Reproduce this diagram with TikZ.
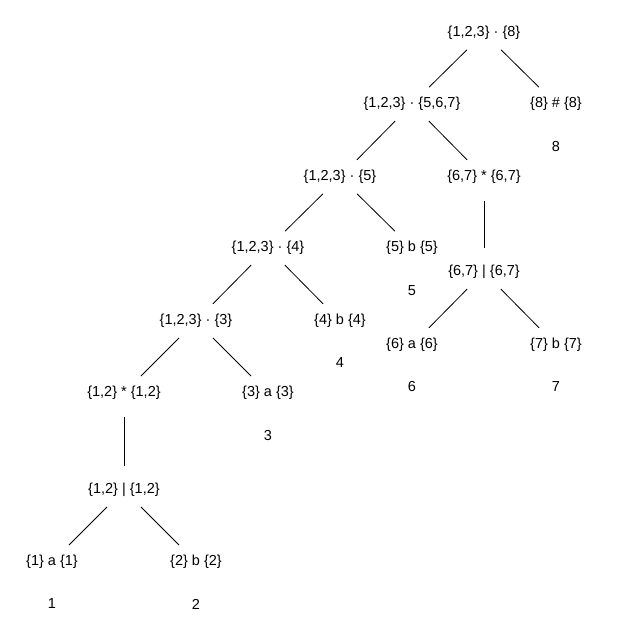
\documentclass[tikz,border=0pt]{standalone}
\usepackage{fontspec}
\setmainfont{Liberation Sans}
\usepackage{tikz}
\tikzset{term/.style = {font = \fontsize{14.5}{17}\selectfont, inner sep = 0},
         edge/.style = {shorten <= 24pt, shorten >= 24pt, line width = 0.8pt}}

\begin{document}
\begin{tikzpicture}[x=1pt, y=-1pt]
      \useasboundingbox (0, 0) rectangle (621, 632);

      \node [term] (top) at (484, 33) {\{1,2,3\} · \{8\}};
      \node [term] (s567) at (412, 104) {\{1,2,3\} · \{5,6,7\}};
      \node [term] (h8) at (556, 104) {\{8\} \# \{8\}};
      \node [term] (s5) at (340, 177) {\{1,2,3\} · \{5\}};
      \node [term] (st67) at (484, 177) {\{6,7\} * \{6,7\}};
      \node [term] (s4) at (268, 248) {\{1,2,3\} · \{4\}};
      \node [term] (b5) at (412, 248) {\{5\} b \{5\}};
      \node [term] (al67) at (484, 272) {\{6,7\} | \{6,7\}};
      \node [term] (s3) at (196, 321) {\{1,2,3\} · \{3\}};
      \node [term] (b4) at (340, 321) {\{4\} b \{4\}};
      \node [term] (a6) at (412, 345) {\{6\} a \{6\}};
      \node [term] (b7) at (556, 345) {\{7\} b \{7\}};
      \node [term] (st12) at (124, 393) {\{1,2\} * \{1,2\}};
      \node [term] (a3) at (268, 393) {\{3\} a \{3\}};
      \node [term] (al12) at (124, 490) {\{1,2\} | \{1,2\}};
      \node [term] (a1) at (52, 562) {\{1\} a \{1\}};
      \node [term] (b2) at (196, 562) {\{2\} b \{2\}};

      % leaf numbers
      \node [term] (l1) at (52, 604) {1};
      \node [term] (l2) at (196, 604) {2};
      \node [term] (l3) at (268, 436) {3};
      \node [term] (l4) at (340, 363) {4};
      \node [term] (l5) at (412, 291) {5};
      \node [term] (l6) at (412, 387) {6};
      \node [term] (l7) at (556, 387) {7};
      \node [term] (l8) at (556, 147) {8};

      \draw [edge] (top.center) -- (s567.center);
      \draw [edge] (top.center) -- (h8.center);
      \draw [edge] (s567.center) -- (s5.center);
      \draw [edge] (s567.center) -- (st67.center);
      \draw [edge] (s5.center) -- (s4.center);
      \draw [edge] (s5.center) -- (b5.center);
      \draw [edge] (st67.center) -- (al67.center);
      \draw [edge] (s4.center) -- (s3.center);
      \draw [edge] (s4.center) -- (b4.center);
      \draw [edge] (al67.center) -- (a6.center);
      \draw [edge] (al67.center) -- (b7.center);
      \draw [edge] (s3.center) -- (st12.center);
      \draw [edge] (s3.center) -- (a3.center);
      \draw [edge] (st12.center) -- (al12.center);
      \draw [edge] (al12.center) -- (a1.center);
      \draw [edge] (al12.center) -- (b2.center);
    \end{tikzpicture}
\end{document}
